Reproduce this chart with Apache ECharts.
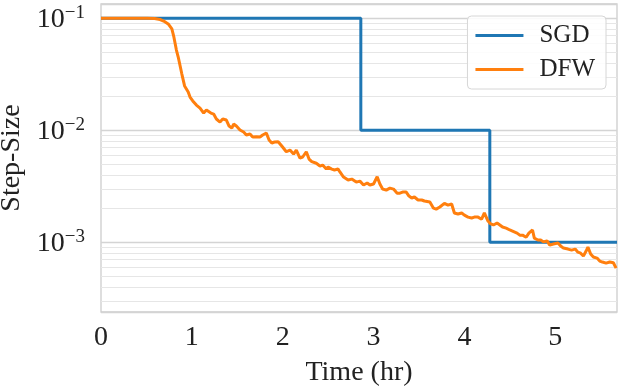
<!DOCTYPE html>
<html>
<head>
<meta charset="utf-8">
<script src="https://cdn.jsdelivr.net/npm/echarts@6/dist/echarts.min.js"></script>
<style>
    html, body { margin: 0; padding: 0; background: #fff; }
    #chart { width: 621px; height: 388px; }
</style>
</head>
<body>
<div id="chart"></div>
<script>
// SGD schedule (hr, step size)
var sgdTime = [0, 2.86, 2.86, 4.28, 4.28, 5.68];
var sgdStep = [0.1, 0.1, 0.01, 0.01, 0.001, 0.001];

// DFW step size
var dfwTime = [0, 0.32, 0.51, 0.59, 0.65, 0.69, 0.74, 0.78, 0.80, 0.83, 0.85, 0.89, 0.92, 0.96, 0.98,
    1.01, 1.05, 1.09, 1.13, 1.16, 1.18, 1.21, 1.24, 1.27, 1.31, 1.34, 1.38, 1.41, 1.44, 1.46, 1.49,
    1.53, 1.57, 1.60, 1.64, 1.67, 1.71, 1.75, 1.78, 1.82, 1.85, 1.88, 1.91, 1.95, 1.99,
    2.04, 2.08, 2.12, 2.15, 2.19, 2.22, 2.26, 2.29, 2.32, 2.34, 2.37, 2.41, 2.44, 2.48, 2.50,
    2.54, 2.57, 2.61, 2.63, 2.67, 2.72, 2.76, 2.81, 2.85, 2.89, 2.93, 2.96,
    3.00, 3.04, 3.07, 3.10, 3.14, 3.18, 3.22, 3.26, 3.29, 3.32, 3.36, 3.39, 3.42, 3.45, 3.49,
    3.53, 3.56, 3.62, 3.66, 3.69, 3.73, 3.78, 3.82, 3.86, 3.89, 3.93, 3.97,
    4.00, 4.04, 4.08, 4.11, 4.15, 4.19, 4.22, 4.26, 4.29, 4.32, 4.36, 4.39, 4.42, 4.46, 4.50,
    4.53, 4.58, 4.61, 4.64, 4.68, 4.71, 4.75, 4.77, 4.81, 4.84, 4.87, 4.91, 4.94, 4.98,
    5.03, 5.06, 5.09, 5.14, 5.18, 5.22, 5.25, 5.28, 5.31, 5.34, 5.36, 5.39, 5.42, 5.46, 5.49,
    5.52, 5.56, 5.60, 5.64, 5.67];
var dfwStep = [0.1, 0.1, 0.1, 0.0996, 0.0976, 0.0946, 0.089, 0.0803, 0.0695, 0.0521, 0.0451, 0.0318, 0.0249, 0.022, 0.0198,
    0.0183, 0.0168, 0.0158, 0.01427, 0.0152, 0.0155, 0.01427, 0.01398, 0.01262, 0.01186, 0.01262, 0.01236, 0.01092, 0.01048, 0.01138, 0.01092,
    0.01007, 0.00966, 0.00908, 0.00927, 0.00871, 0.00877, 0.00871, 0.00908, 0.00946, 0.00819, 0.0077, 0.00787, 0.00792, 0.00724,
    0.00644, 0.00667, 0.00614, 0.00667, 0.00566, 0.00578, 0.00644, 0.00554, 0.00525, 0.00543, 0.00508, 0.0048, 0.0049, 0.00451, 0.0047,
    0.00451, 0.00443, 0.00451, 0.00425, 0.00383, 0.0036, 0.00367, 0.00345, 0.00352, 0.00325, 0.00339, 0.00325,
    0.00332, 0.00385, 0.00332, 0.00299, 0.00293, 0.00305, 0.00299, 0.00275, 0.00275, 0.00281, 0.00281, 0.00259, 0.00249, 0.00254, 0.00239,
    0.00239, 0.00234, 0.00229, 0.00202, 0.00198, 0.00207, 0.00223, 0.00215, 0.0022, 0.00183, 0.00179, 0.00183,
    0.00175, 0.00168, 0.00165, 0.00168, 0.00168, 0.00161, 0.00183, 0.00155, 0.00146, 0.00143, 0.00149, 0.00143, 0.00137, 0.00134, 0.00129,
    0.00126, 0.00121, 0.00116, 0.00116, 0.00111, 0.00121, 0.00129, 0.00109, 0.00105, 0.00105, 0.00101, 0.00103, 0.000946, 0.000966,
    0.000986, 0.000927, 0.000889, 0.000871, 0.000853, 0.000871, 0.000818, 0.000801, 0.000755, 0.000836, 0.000908, 0.000787, 0.00074, 0.000724, 0.000681,
    0.000667, 0.000653, 0.000667, 0.000657, 0.000589];

var xTicks = [0, 1, 2, 3, 4, 5];
var xMax = 5.68;
var yMin = 2.39e-4, yMax = 0.1342;

var font = '"Liberation Serif", "DejaVu Serif", serif';

function pairs(xs, ys) {
    return xs.map(function(x, i) { return [x, ys[i]]; });
}

// minor log grid lines (2..9 x 10^k) inside the axis range
function minorLines() {
    var out = [];
    for (var k = -4; k <= -1; k++) {
        for (var m = 2; m <= 9; m++) {
            var v = m * Math.pow(10, k);
            if (v > yMin && v < yMax) out.push({ yAxis: v });
        }
    }
    return out;
}

initChart();

function initChart() {
    var chart = echarts.init(document.getElementById('chart'));
    var option = {
        animation: false,
        backgroundColor: '#ffffff',
        grid: {
            left: 101, right: 4, top: 4, bottom: 76,
            containLabel: false,
            outerBoundsMode: 'none',
            show: true,
            borderColor: '#cdcdcd',
            borderWidth: 1.3,
            backgroundColor: 'transparent'
        },
        legend: {
            data: ['SGD', 'DFW'],
            orient: 'vertical',
            right: 15,
            top: 16,
            z: 10,
            padding: [7, 11, 7, 8],
            itemGap: 9,
            itemWidth: 48,
            itemHeight: 3,
            icon: 'rect',
            backgroundColor: 'rgba(255,255,255,0.85)',
            borderColor: '#d6d6d6',
            borderWidth: 1,
            borderRadius: 4,
            textStyle: {
                fontFamily: font,
                fontSize: 25,
                lineHeight: 24,
                color: '#222',
                padding: [0, 0, 0, 11]
            }
        },
        xAxis: {
            type: 'value',
            min: 0,
            max: xMax,
            interval: 1,
            name: 'Time (hr)',
            nameLocation: 'middle',
            nameGap: 44,
            nameTextStyle: { fontFamily: font, fontSize: 28, color: '#222', lineHeight: 30 },
            axisLine: { show: false },
            axisTick: { show: false },
            splitLine: { show: false },
            axisLabel: {
                fontFamily: font,
                fontSize: 28,
                lineHeight: 30,
                color: '#222',
                margin: 11,
                showMaxLabel: false,
                formatter: function(v) {
                    return xTicks.indexOf(v) >= 0 ? String(v) : '';
                }
            }
        },
        yAxis: {
            type: 'log',
            logBase: 10,
            min: yMin,
            max: yMax,
            name: 'Step-Size',
            nameLocation: 'middle',
            nameGap: 74,
            nameTextStyle: { fontFamily: font, fontSize: 28, color: '#222' },
            axisLine: { show: false },
            axisTick: { show: false },
            splitLine: { show: true, lineStyle: { color: '#d4d4d4', width: 1.3 } },
            axisLabel: {
                margin: 16,
                showMinLabel: false,
                showMaxLabel: false,
                formatter: function(v) {
                    var e = Math.log10(v);
                    if (Math.abs(e - Math.round(e)) > 0.01) return '';
                    return '{b|10}{s|\u2212' + Math.abs(Math.round(e)) + '}';
                },
                rich: {
                    b: { fontFamily: font, fontSize: 28, color: '#222', lineHeight: 30, verticalAlign: 'bottom' },
                    s: { fontFamily: font, fontSize: 19, color: '#222', lineHeight: 19, verticalAlign: 'top' }
                }
            }
        },
        series: [
            {
                name: 'minor',
                type: 'line',
                data: [],
                z: 1,
                silent: true,
                markLine: {
                    silent: true,
                    z: 1,
                    precision: 8,
                    symbol: 'none',
                    label: { show: false },
                    emphasis: { disabled: true },
                    lineStyle: { type: 'solid', color: '#e6e6e6', width: 1 },
                    data: minorLines()
                }
            },
            {
                name: 'SGD',
                type: 'line',
                symbol: 'none',
                data: pairs(sgdTime, sgdStep),
                lineStyle: { color: '#1f77b4', width: 3 },
                itemStyle: { color: '#1f77b4' },
                z: 3
            },
            {
                name: 'DFW',
                type: 'line',
                symbol: 'none',
                data: pairs(dfwTime, dfwStep),
                lineStyle: { color: '#ff7f0e', width: 3 },
                itemStyle: { color: '#ff7f0e' },
                z: 4
            }
        ]
    };
    chart.setOption(option);
}
</script>
</body>
</html>
